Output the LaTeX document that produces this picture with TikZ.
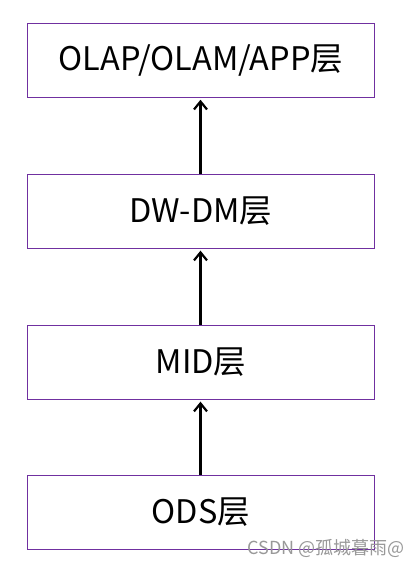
\documentclass[tikz,border=0pt]{standalone}
\usepackage{fontspec}
\setmainfont{Noto Sans CJK SC}
\usetikzlibrary{arrows.meta}
\definecolor{boxline}{HTML}{7030A0}
\tikzset{
  layer/.style={draw=boxline, line width=0.9pt, minimum width=347pt, minimum height=74pt, inner sep=0pt, font=\fontsize{32.5}{36}\selectfont, text=black},
  uparrow/.style={-{Straight Barb[length=8pt,width=13pt,line width=2.2pt]}, line width=2.2pt, black},
  wm/.style={text=black!40, font=\fontsize{18}{20}\selectfont, inner sep=0pt}
}
\begin{document}
\begin{tikzpicture}[x=1pt,y=1pt]
\useasboundingbox (0,0) rectangle (420,-565);
\node[layer] (app) at (201,-60.3) {OLAP/OLAM/APP层};
\node[layer] (dw)  at (201,-211.2) {DW-DM层};
\node[layer] (mid) at (201,-362.2) {MID层};
\node[layer] (ods) at (201,-512.2) {ODS层};
\draw[uparrow] (dw.north -| 200.5,0) -- ([yshift=-2pt]app.south -| 200.5,0);
\draw[uparrow] (mid.north -| 200.5,0) -- ([yshift=-2pt]dw.south -| 200.5,0);
\draw[uparrow] (ods.north -| 200.5,0) -- ([yshift=-2pt]mid.south -| 200.5,0);
\node[wm, anchor=east] (mark) at (405,-548) {CSDN @孤城暮雨@};
\end{tikzpicture}
\end{document}
